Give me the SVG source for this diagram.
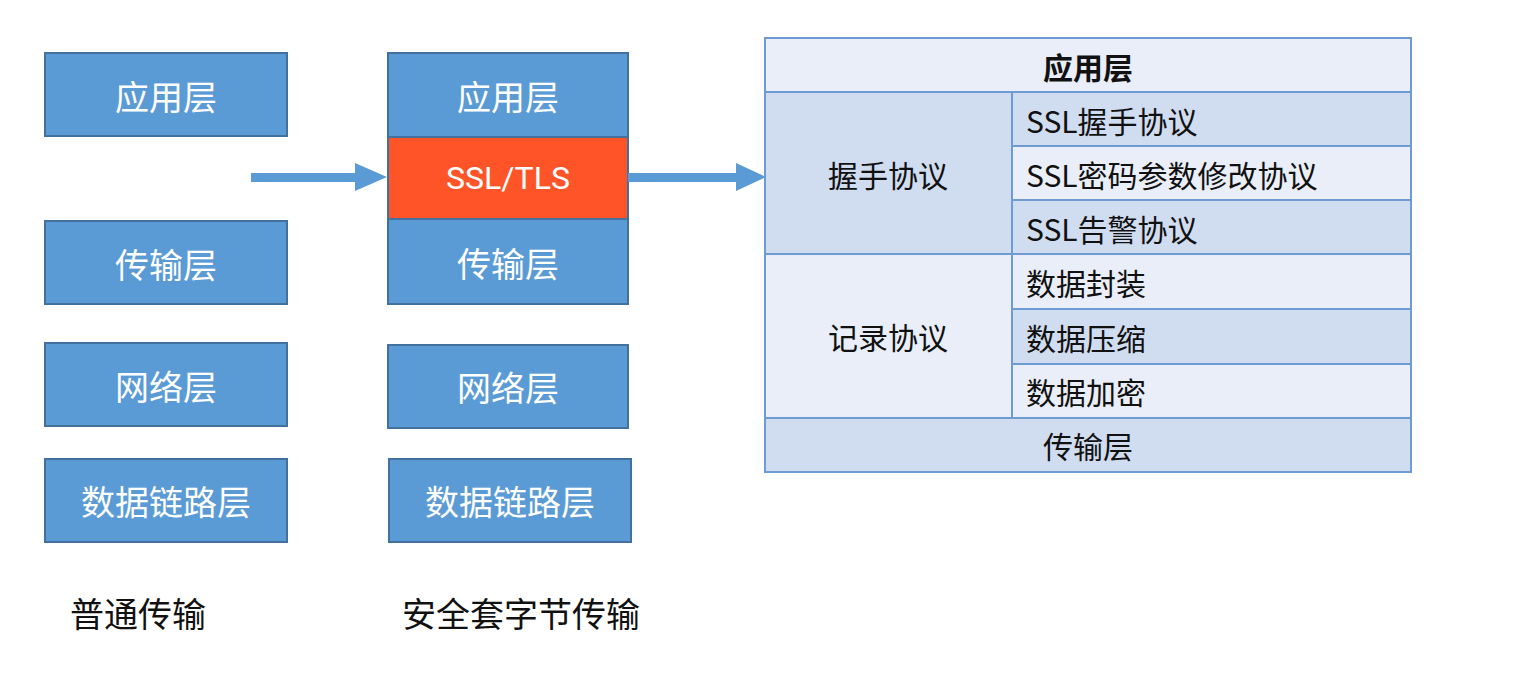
<svg xmlns="http://www.w3.org/2000/svg" width="1522" height="696" viewBox="0 0 1522 696">
<style>
.b{fill:#5B9BD5;stroke:#41719C;stroke-width:2}
.o{fill:#FF5428;stroke:#41719C;stroke-width:2}
.w{font-family:"Noto Sans CJK SC",sans-serif;font-size:34px;fill:#fff;text-anchor:middle;dominant-baseline:central}
.d{fill:#D0DCF0;stroke:#6D9BD2;stroke-width:2}
.l{fill:#E9EEF8;stroke:#6D9BD2;stroke-width:2}
.t{font-family:"Noto Sans CJK SC",sans-serif;font-size:30px;fill:#111;dominant-baseline:central}
.c{text-anchor:middle}
.k{font-family:"Noto Sans CJK SC",sans-serif;font-size:34px;fill:#111}
</style>
<g id="left">
<g id="l1"><rect class="b" x="45" y="53" width="242" height="83"/><text class="w" x="166" y="95">应用层</text></g>
<g id="l2"><rect class="b" x="45" y="221" width="242" height="83"/><text class="w" x="166" y="263">传输层</text></g>
<g id="l3"><rect class="b" x="45" y="343" width="242" height="83"/><text class="w" x="166" y="385">网络层</text></g>
<g id="l4"><rect class="b" x="45" y="459" width="242" height="83"/><text class="w" x="166" y="500">数据链路层</text></g>
</g>
<g id="mid">
<g id="m1"><rect class="b" x="388" y="53" width="240" height="84"/><text class="w" x="508" y="95">应用层</text></g>
<g id="m2"><rect class="o" x="388" y="137" width="240" height="82"/><text class="w" x="508" y="178" style="font-family:'Liberation Sans Narrow','Roboto',sans-serif;font-size:32px">SSL/TLS</text></g>
<g id="m3"><rect class="b" x="388" y="219" width="240" height="85"/><text class="w" x="508" y="262">传输层</text></g>
<g id="m4"><rect class="b" x="388" y="345" width="240" height="83"/><text class="w" x="508" y="386">网络层</text></g>
<g id="m5"><rect class="b" x="389" y="459" width="242" height="83"/><text class="w" x="510" y="500">数据链路层</text></g>
</g>
<g id="connectors" fill="#5B9BD5">
<rect x="251" y="173" width="106" height="9"/><polygon points="355,163 387,177 355,191"/>
<rect x="628" y="173" width="110" height="9"/><polygon points="736,163 766,177 736,191"/>
</g>
<g id="table">
<rect class="l" x="765" y="38" width="646" height="54"/><text class="t c" x="1088" y="66" font-weight="bold">应用层</text>
<rect class="d" x="765" y="92" width="247" height="162"/><text class="t c" x="888" y="174">握手协议</text>
<rect class="d" x="1012" y="92" width="399" height="54"/><text class="t" x="1026" y="120">SSL握手协议</text>
<rect class="l" x="1012" y="146" width="399" height="54"/><text class="t" x="1026" y="174">SSL密码参数修改协议</text>
<rect class="d" x="1012" y="200" width="399" height="54"/><text class="t" x="1026" y="228">SSL告警协议</text>
<rect class="l" x="765" y="254" width="247" height="164"/><text class="t c" x="888" y="336">记录协议</text>
<rect class="l" x="1012" y="254" width="399" height="55"/><text class="t" x="1026" y="282">数据封装</text>
<rect class="d" x="1012" y="309" width="399" height="55"/><text class="t" x="1026" y="337">数据压缩</text>
<rect class="l" x="1012" y="364" width="399" height="54"/><text class="t" x="1026" y="391">数据加密</text>
<rect class="d" x="765" y="418" width="646" height="54"/><text class="t c" x="1088" y="445">传输层</text>
</g>
<text class="k" x="70" y="627">普通传输</text>
<text class="k" x="402" y="627">安全套字节传输</text>
</svg>
